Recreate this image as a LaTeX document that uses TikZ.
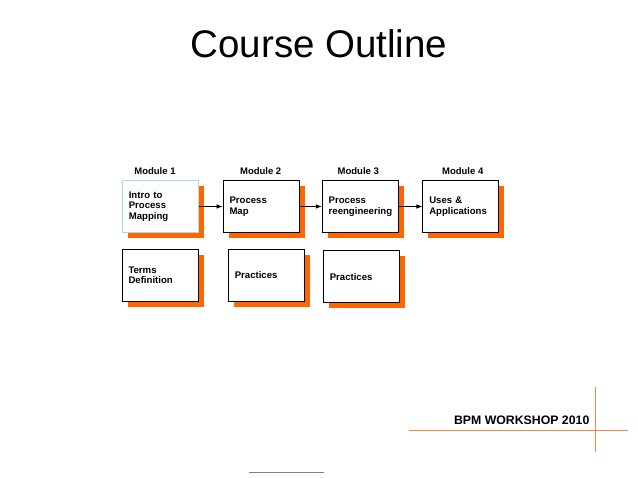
\documentclass[tikz,border=0pt]{standalone}
\usepackage{fontspec}
\setmainfont{Liberation Sans}
\usetikzlibrary{shadows,arrows.meta}
\definecolor{shadoworange}{HTML}{FF6600}
\definecolor{lineorange}{HTML}{F28A3A}
\definecolor{introborder}{HTML}{A9D9E2}

\begin{document}
\begin{tikzpicture}[x=1pt,y=-1pt,
  modbox/.style={draw=black,fill=white,line width=0.8pt,
    minimum width=76pt,minimum height=52pt,text width=63pt,inner xsep=6.5pt,
    align=left,font=\bfseries\fontsize{9.6}{10.5}\selectfont,
    drop shadow={shadow xshift=5.5pt,shadow yshift=-5.5pt,fill=shadoworange,opacity=1}},
  modlabel/.style={anchor=base,font=\bfseries\fontsize{9.5}{11}\selectfont},
  flow/.style={-{Latex[length=6pt,width=4.5pt]},line width=0.7pt},
  rule/.style={draw=lineorange,line width=1.4pt}]
\useasboundingbox (0,0) rectangle (638,478);
\node[anchor=base,font=\fontsize{38.5}{40}\selectfont] (title) at (319,57.3) {Course Outline};
\node[modlabel] (mod1) at (155,175) {Module 1};
\node[modlabel] (mod2) at (260.7,175) {Module 2};
\node[modlabel] (mod3) at (358.3,175) {Module 3};
\node[modlabel] (mod4) at (462.7,175) {Module 4};
\node[modbox,draw=introborder] (intro) at (160.3,206.5) {Intro to\\Process\\Mapping};
\node[modbox] (pmap) at (261,206.5) {Process\\Map};
\node[modbox] (reeng) at (360.2,206.5) {Process\\reengineering};
\node[modbox] (uses) at (460.8,206.5) {Uses \&\\Applications};
\node[modbox] (terms) at (160,275.3) {Terms\\Definition};
\node[modbox] (prac1) at (266.3,275.3) {Practices};
\node[modbox] (prac2) at (361.3,276.7) {Practices};
\draw[flow] (intro) -- (pmap);
\draw[flow] (pmap) -- (reeng);
\draw[flow] (reeng) -- (uses);
\node[anchor=base,font=\bfseries\fontsize{12.3}{14}\selectfont] (footer) at (521.7,425) {BPM WORKSHOP 2010};
\coordinate (hl) at (409,430.5);
\coordinate (hr) at (628,430.5);
\coordinate (vt) at (595.5,387.3);
\coordinate (vb) at (595.5,451.7);
\draw[rule] (hl) -- (hr);
\draw[rule] (vt) -- (vb);
\coordinate (gl) at (249.3,472.3);
\coordinate (gr) at (324.3,472.3);
\draw[gray,line width=1pt] (gl) -- (gr);
\end{tikzpicture}
\end{document}
